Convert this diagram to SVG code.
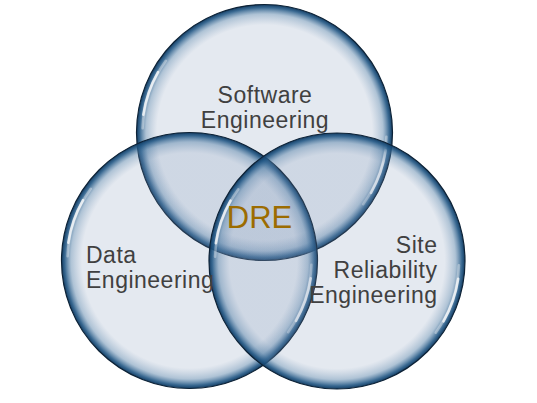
<svg xmlns="http://www.w3.org/2000/svg" width="537" height="403" viewBox="0 0 537 403">
  <defs>
    <radialGradient id="bubble" cx="50%" cy="50%" r="50%">
      <stop offset="0" stop-color="#7891b4" stop-opacity="0.2"/>
      <stop offset="0.84" stop-color="#7891b4" stop-opacity="0.2"/>
      <stop offset="0.925" stop-color="#4d7aa3" stop-opacity="0.45"/>
      <stop offset="0.975" stop-color="#1e5482" stop-opacity="0.88"/>
      <stop offset="1" stop-color="#133c62" stop-opacity="1"/>
    </radialGradient>
    <filter id="soft" x="-20%" y="-20%" width="140%" height="140%">
      <feGaussianBlur stdDeviation="0.7"/>
    </filter>
    <style>
      .disc { fill: url(#bubble); stroke: #0d2236; stroke-width: 1.2; }
      .hl { fill: none; stroke: #ffffff; stroke-width: 2.6; stroke-linecap: round; filter: url(#soft); }
      .hl1 { stroke-opacity: 0.35; }
      .hl2 { stroke-opacity: 0.75; }
      .lbl { font-family: "Liberation Sans", Arial, sans-serif; font-size: 23px; fill: #404040; letter-spacing: 0.5px; }
      .core { font-family: "Liberation Sans", Arial, sans-serif; font-size: 31px; fill: #9c6c00; }
    </style>
  </defs>
  <rect width="537" height="403" fill="#ffffff"/>

  <g id="software-engineering">
    <circle class="disc" cx="264.5" cy="132.5" r="128"/>
    <path class="hl hl1" d="M142.6,128.2 A122,122 0 0 1 165.8,60.8"/>
    <path class="hl hl2" d="M143.3,114.7 A122,122 0 0 1 158.0,72.2"/>
    <path class="hl hl1" d="M386.4,136.8 A122,122 0 0 1 363.2,204.2"/>
    <path class="hl hl2" d="M385.7,150.3 A122,122 0 0 1 371.0,192.8"/>
  </g>

  <g id="data-engineering">
    <circle class="disc" cx="189.5" cy="260.5" r="128"/>
    <path class="hl hl1" d="M67.6,256.2 A122,122 0 0 1 90.8,188.8"/>
    <path class="hl hl2" d="M68.3,242.7 A122,122 0 0 1 83.0,200.2"/>
    <path class="hl hl1" d="M311.4,264.8 A122,122 0 0 1 288.2,332.2"/>
    <path class="hl hl2" d="M310.7,278.3 A122,122 0 0 1 296.0,320.8"/>
  </g>

  <g id="site-reliability-engineering">
    <circle class="disc" cx="337" cy="261" r="128"/>
    <path class="hl hl1" d="M215.1,256.7 A122,122 0 0 1 238.3,189.3"/>
    <path class="hl hl2" d="M215.8,243.2 A122,122 0 0 1 230.5,200.7"/>
    <path class="hl hl1" d="M458.9,265.3 A122,122 0 0 1 435.7,332.7"/>
    <path class="hl hl2" d="M458.2,278.8 A122,122 0 0 1 443.5,321.3"/>
  </g>

  <g id="labels">
    <text class="lbl" x="265" y="103" text-anchor="middle">Software</text>
    <text class="lbl" x="265" y="128" text-anchor="middle">Engineering</text>
    <text class="lbl" x="86" y="262.5">Data</text>
    <text class="lbl" x="86" y="288">Engineering</text>
    <text class="lbl" x="437.5" y="253" text-anchor="end">Site</text>
    <text class="lbl" x="437.5" y="278" text-anchor="end">Reliability</text>
    <text class="lbl" x="437.5" y="303" text-anchor="end">Engineering</text>
  </g>

  <g id="dre">
    <text class="core" x="259.5" y="227.5" text-anchor="middle">DRE</text>
  </g>
</svg>
